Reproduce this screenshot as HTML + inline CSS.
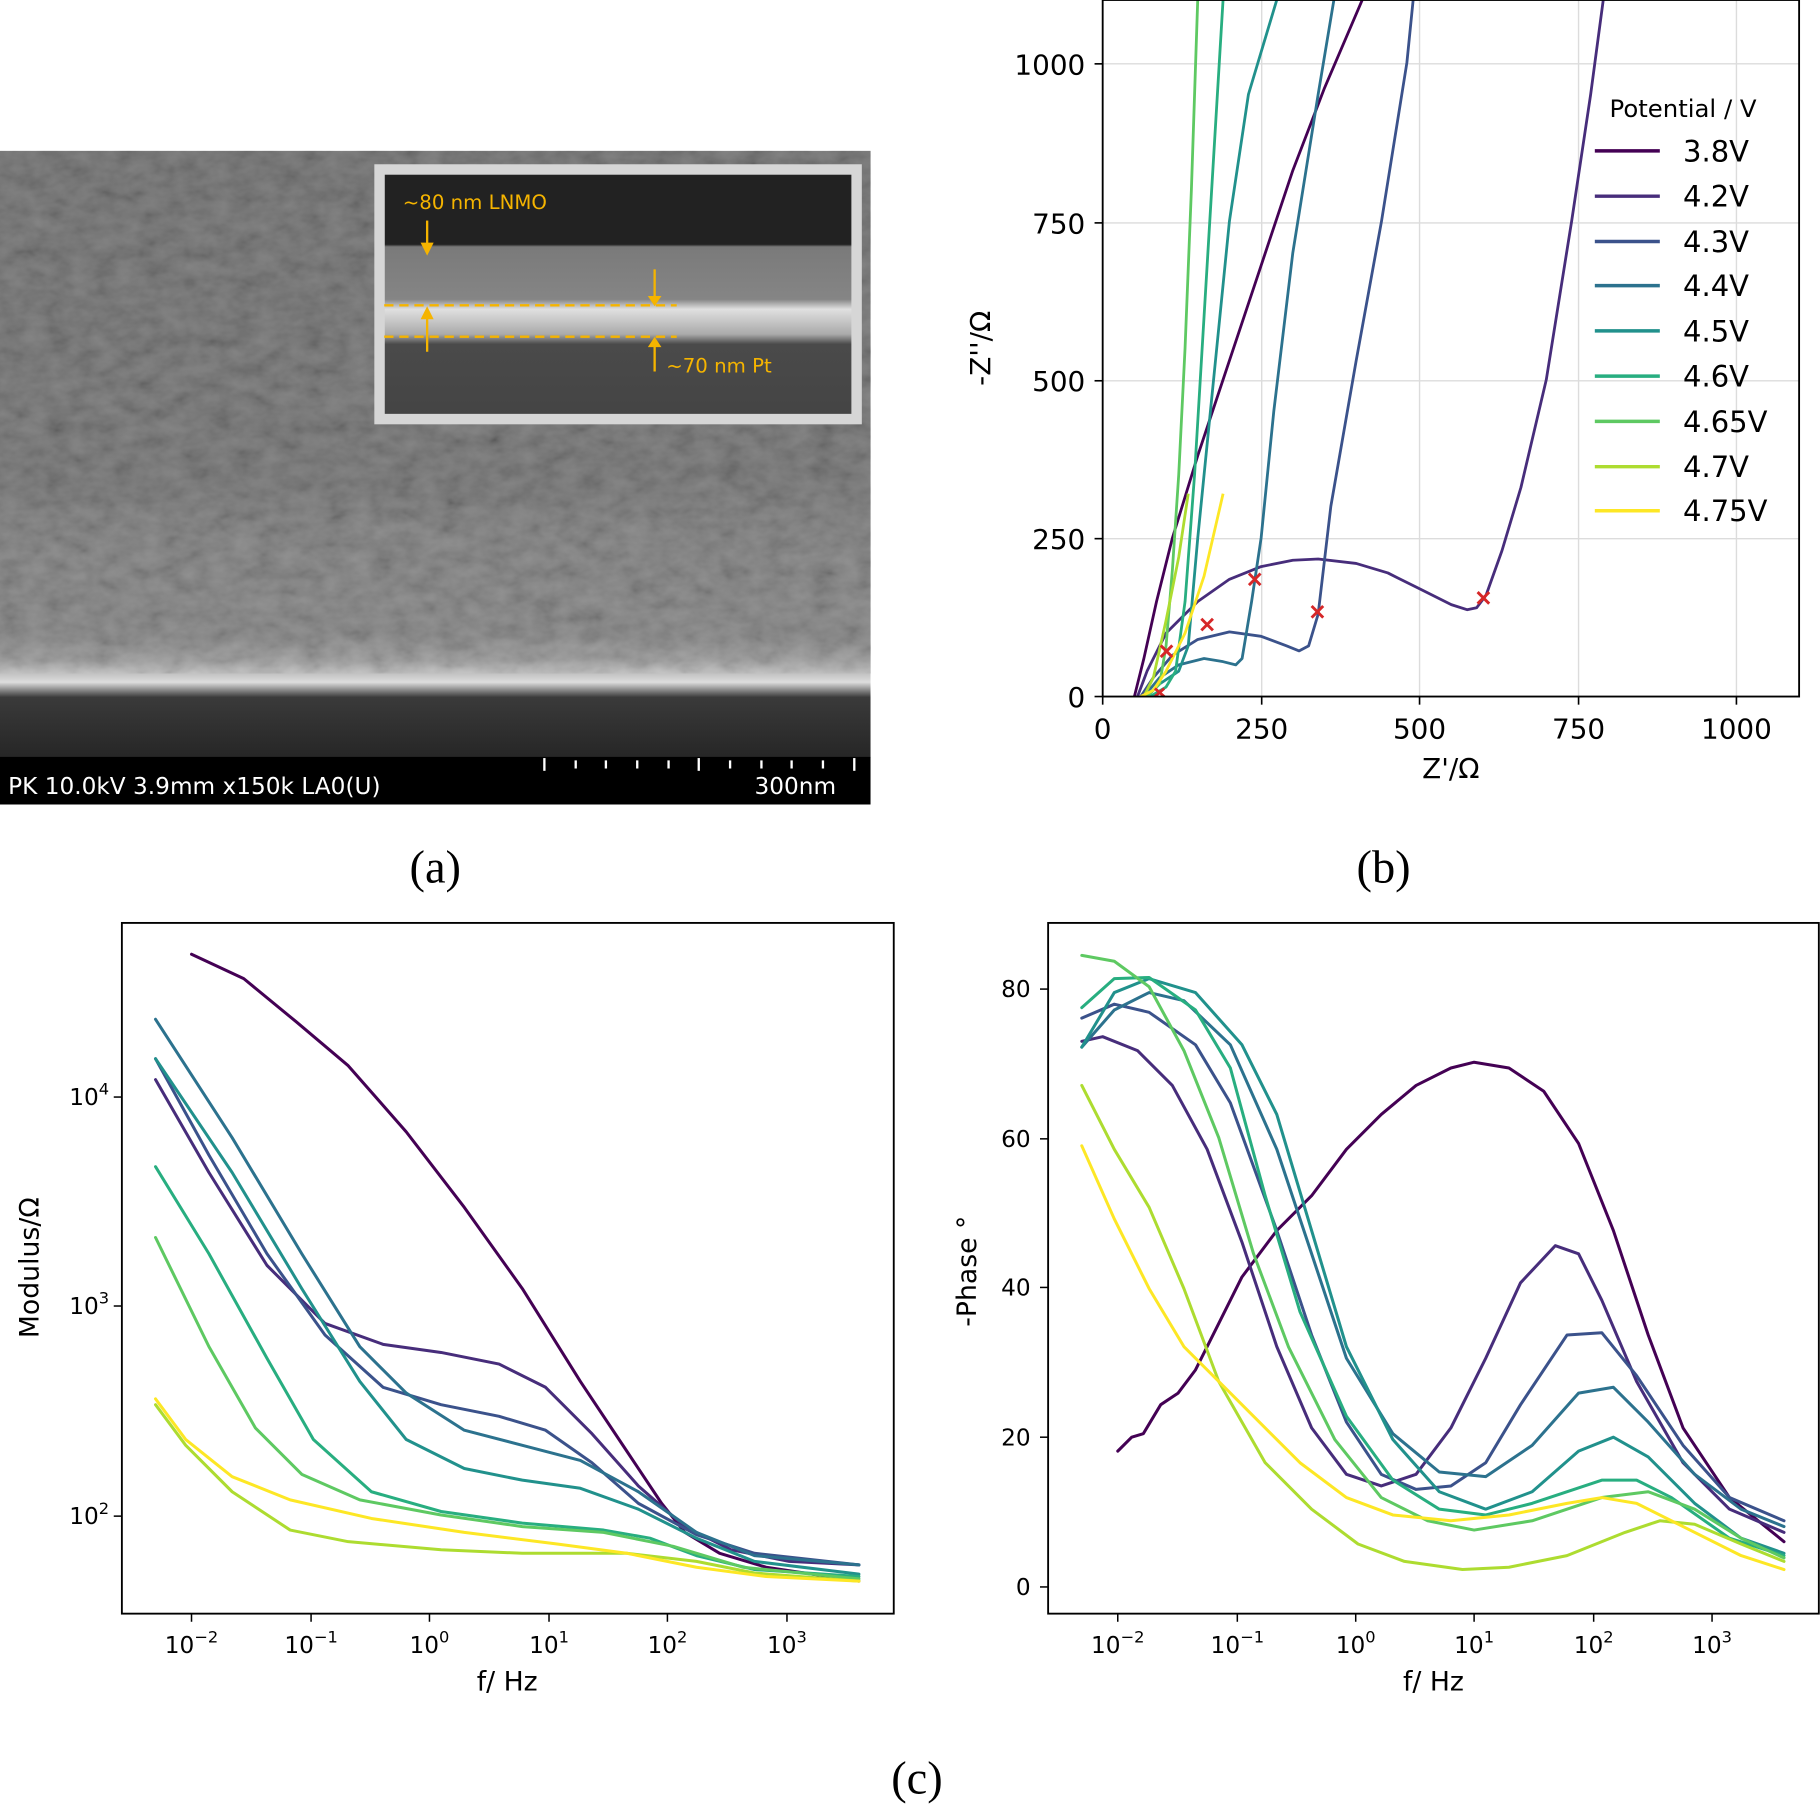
<!DOCTYPE html>
<html><head><meta charset="utf-8"><style>
html,body{margin:0;padding:0;background:#fff;}
svg{display:block;}
text{font-family:"DejaVu Sans","Liberation Sans",sans-serif;}
.serif{font-family:"Liberation Serif","DejaVu Serif",serif;}
.c polyline{fill:none;stroke-width:2.6;stroke-linejoin:round;stroke-linecap:round;}
.n polyline{fill:none;stroke-width:2.8;vector-effect:non-scaling-stroke;stroke-linejoin:round;}
</style></head><body>
<svg width="1820" height="1811" viewBox="0 0 1568 1560" preserveAspectRatio="none" xmlns="http://www.w3.org/2000/svg">
<defs>
<filter id="tex" x="0" y="0" width="100%" height="100%">
<feTurbulence type="fractalNoise" baseFrequency="0.05 0.08" numOctaves="3" seed="4"/>
<feColorMatrix type="matrix" values="0.9 0 0 0 -0.05  0.9 0 0 0 -0.05  0.9 0 0 0 -0.05  0 0 0 0 1"/>
</filter>
<linearGradient id="sem" x1="0" y1="0" x2="0" y2="1">
<stop offset="0" stop-color="#6a6a6a"/><stop offset="0.55" stop-color="#6e6e6e"/>
<stop offset="0.63" stop-color="#7a7a7a"/><stop offset="0.8" stop-color="#808080"/>
<stop offset="0.84" stop-color="#9a9a9a"/><stop offset="0.875" stop-color="#dddddd"/>
<stop offset="0.9" stop-color="#3a3a3a"/><stop offset="1" stop-color="#262626"/>
</linearGradient>
<linearGradient id="ins" x1="0" y1="0" x2="0" y2="1">
<stop offset="0" stop-color="#222"/><stop offset="0.3" stop-color="#222"/>
<stop offset="0.31" stop-color="#7a7a7a"/><stop offset="0.52" stop-color="#858585"/>
<stop offset="0.56" stop-color="#e0e0e0"/><stop offset="0.66" stop-color="#aaa"/>
<stop offset="0.7" stop-color="#4a4a4a"/><stop offset="1" stop-color="#444"/>
</linearGradient>
</defs>

<!-- (a) SEM -->
<rect x="0" y="130" width="750" height="523" fill="url(#sem)"/>
<rect x="0" y="130" width="750" height="450" fill="#777" opacity="0.2" filter="url(#tex)"/>
<rect x="0" y="652" width="750" height="41" fill="#000"/>
<text x="7" y="684" font-size="20" fill="#fff" font-family="Liberation Sans,sans-serif">PK 10.0kV 3.9mm x150k LA0(U)</text>
<text x="650" y="684" font-size="20" fill="#fff" font-family="Liberation Sans,sans-serif">300nm</text>
<g stroke="#fff" stroke-width="2">
<line x1="469" y1="653" x2="469" y2="664"/><line x1="496" y1="655" x2="496" y2="662"/><line x1="522" y1="655" x2="522" y2="662"/><line x1="549" y1="655" x2="549" y2="662"/><line x1="576" y1="655" x2="576" y2="662"/><line x1="602" y1="653" x2="602" y2="664"/><line x1="629" y1="655" x2="629" y2="662"/><line x1="656" y1="655" x2="656" y2="662"/><line x1="682" y1="655" x2="682" y2="662"/><line x1="709" y1="655" x2="709" y2="662"/><line x1="736" y1="653" x2="736" y2="664"/>
</g>
<rect x="327" y="146" width="411" height="215" fill="url(#ins)" stroke="#d6d6d6" stroke-width="9"/>
<g stroke="#f5b400" stroke-width="2" fill="#f5b400">
<line x1="331" y1="263" x2="583" y2="263" stroke-dasharray="8,5"/>
<line x1="331" y1="290" x2="583" y2="290" stroke-dasharray="8,5"/>
<line x1="368" y1="190" x2="368" y2="212"/><polygon points="364,210 372,210 368,218"/>
<line x1="368" y1="272" x2="368" y2="303"/><polygon points="364,274 372,274 368,266"/>
<line x1="564" y1="232" x2="564" y2="258"/><polygon points="560,256 568,256 564,262"/>
<line x1="564" y1="296" x2="564" y2="320"/><polygon points="560,298 568,298 564,292"/>
</g>
<text x="347" y="180" font-size="17" fill="#f5b400" font-family="Liberation Sans,sans-serif">~80 nm LNMO</text>
<text x="574" y="321" font-size="17" fill="#f5b400" font-family="Liberation Sans,sans-serif">~70 nm Pt</text>
<text x="375" y="760" font-size="40" text-anchor="middle" class="serif">(a)</text>
<text x="1192" y="760" font-size="40" text-anchor="middle" class="serif">(b)</text>
<text x="790" y="1545" font-size="40" text-anchor="middle" class="serif">(c)</text>

<!-- (b) Nyquist -->
<g stroke="#dcdcdc" stroke-width="1.2">
<line x1="1087" y1="0" x2="1087" y2="600"/><line x1="1223" y1="0" x2="1223" y2="600"/><line x1="1360" y1="0" x2="1360" y2="600"/><line x1="1496" y1="0" x2="1496" y2="600"/>
<line x1="950" y1="464" x2="1550" y2="464"/><line x1="950" y1="328" x2="1550" y2="328"/><line x1="950" y1="192" x2="1550" y2="192"/><line x1="950" y1="55" x2="1550" y2="55"/>
</g>
<svg x="950" y="0" width="600" height="600" viewBox="0 0 600 600" overflow="hidden">
<g class="n" transform="translate(0,600) scale(0.546,-0.546)">
<polyline stroke="#440154" points="50,0 65,60 85,150 110,250 150,380 200,530 250,680 300,830 350,960 410,1100"/>
<polyline stroke="#472d7b" points="55,0 70,40 100,100 150,150 200,185 250,205 300,215 340,217 400,210 450,195 500,170 550,145 575,137 590,140 605,160 630,230 660,330 700,500 740,750 770,950 790,1100"/>
<polyline stroke="#3b528b" points="60,0 80,30 110,65 150,90 200,102 250,95 290,80 310,72 325,80 340,130 360,300 400,530 440,750 480,1000 490,1100"/>
<polyline stroke="#2c728e" points="65,0 90,30 120,50 160,60 190,55 210,50 220,60 235,150 250,250 270,450 300,700 340,950 365,1100"/>
<polyline stroke="#21918c" points="70,0 90,20 105,30 120,40 135,80 150,250 175,500 200,750 230,950 275,1100"/>
<polyline stroke="#28ae80" points="75,0 100,15 115,40 130,150 145,350 160,600 175,850 190,1100"/>
<polyline stroke="#5ec962" points="70,0 90,20 100,80 110,200 120,350 130,550 140,800 150,1100"/>
<polyline stroke="#addc30" points="65,0 80,30 100,120 120,220 135,320"/>
<polyline stroke="#fde725" points="60,0 80,10 100,40 130,100 160,190 190,320"/>
</g>
</svg>
<g stroke="#d62728" stroke-width="2.5">
<path d="M1000 556l10 10M1010 556l-10 10"/>
<path d="M1035 533l10 10M1045 533l-10 10"/>
<path d="M1076 494l10 10M1086 494l-10 10"/>
<path d="M1130 522l10 10M1140 522l-10 10"/>
<path d="M1273 510l10 10M1283 510l-10 10"/>
<path d="M995 593l8 7M1003 593l-8 7"/>
</g>
<rect x="950" y="0" width="600" height="600" fill="none" stroke="#000" stroke-width="1.6"/>
<g stroke="#000" stroke-width="1.4">
<line x1="943" y1="600" x2="950" y2="600"/><line x1="943" y1="464" x2="950" y2="464"/><line x1="943" y1="328" x2="950" y2="328"/><line x1="943" y1="192" x2="950" y2="192"/><line x1="943" y1="55" x2="950" y2="55"/>
<line x1="950" y1="600" x2="950" y2="607"/><line x1="1087" y1="600" x2="1087" y2="607"/><line x1="1223" y1="600" x2="1223" y2="607"/><line x1="1360" y1="600" x2="1360" y2="607"/><line x1="1496" y1="600" x2="1496" y2="607"/>
</g>
<g font-size="24" text-anchor="end">
<text x="935" y="609">0</text><text x="935" y="473">250</text><text x="935" y="337">500</text><text x="935" y="201">750</text><text x="935" y="64">1000</text>
</g>
<g font-size="24" text-anchor="middle">
<text x="950" y="636">0</text><text x="1087" y="636">250</text><text x="1223" y="636">500</text><text x="1360" y="636">750</text><text x="1496" y="636">1000</text>
<text x="1250" y="670">Z'/Ω</text>
<text transform="translate(853,300) rotate(-90)">-Z''/Ω</text>
</g>
<text x="1450" y="101" font-size="21" text-anchor="middle">Potential / V</text>
<g stroke-width="3">
<line x1="1374" y1="130" x2="1430" y2="130" stroke="#440154"/>
<line x1="1374" y1="169" x2="1430" y2="169" stroke="#472d7b"/>
<line x1="1374" y1="208" x2="1430" y2="208" stroke="#3b528b"/>
<line x1="1374" y1="246" x2="1430" y2="246" stroke="#2c728e"/>
<line x1="1374" y1="285" x2="1430" y2="285" stroke="#21918c"/>
<line x1="1374" y1="324" x2="1430" y2="324" stroke="#28ae80"/>
<line x1="1374" y1="363" x2="1430" y2="363" stroke="#5ec962"/>
<line x1="1374" y1="402" x2="1430" y2="402" stroke="#addc30"/>
<line x1="1374" y1="440" x2="1430" y2="440" stroke="#fde725"/>
</g>
<g font-size="25">
<text x="1450" y="139">3.8V</text><text x="1450" y="178">4.2V</text><text x="1450" y="217">4.3V</text><text x="1450" y="255">4.4V</text><text x="1450" y="294">4.5V</text><text x="1450" y="333">4.6V</text><text x="1450" y="372">4.65V</text><text x="1450" y="411">4.7V</text><text x="1450" y="449">4.75V</text>
</g>

<!-- (c) left: Modulus -->
<g class="c">
<polyline stroke="#440154" points="165,822 210,843 255,880 300,918 350,975 400,1040 450,1110 500,1190 540,1250 570,1295 590,1320 620,1338 660,1350 740,1362"/>
<polyline stroke="#472d7b" points="134,930 180,1010 230,1090 280,1140 330,1158 380,1165 430,1175 470,1195 510,1235 550,1280 590,1315 630,1335 680,1345 740,1348"/>
<polyline stroke="#3b528b" points="134,912 180,995 230,1080 280,1150 330,1195 380,1210 430,1220 470,1232 510,1260 550,1295 600,1322 650,1338 740,1348"/>
<polyline stroke="#2c728e" points="134,878 200,980 260,1080 310,1160 350,1200 400,1232 450,1245 500,1258 550,1285 600,1320 650,1340 740,1348"/>
<polyline stroke="#21918c" points="134,912 200,1010 260,1110 310,1190 350,1240 400,1265 450,1275 500,1282 550,1300 600,1325 650,1345 740,1356"/>
<polyline stroke="#28ae80" points="134,1005 180,1080 230,1170 270,1240 320,1285 380,1302 450,1312 520,1318 560,1325 600,1340 650,1352 740,1358"/>
<polyline stroke="#5ec962" points="134,1066 180,1160 220,1230 260,1270 310,1292 380,1305 450,1315 520,1320 580,1332 640,1350 740,1360"/>
<polyline stroke="#addc30" points="134,1210 160,1245 200,1285 250,1318 300,1328 380,1335 450,1338 540,1338 600,1345 650,1355 740,1362"/>
<polyline stroke="#fde725" points="134,1205 160,1240 200,1272 250,1292 320,1308 400,1320 480,1330 540,1338 600,1350 660,1358 740,1362"/>
</g>
<rect x="105" y="795" width="665" height="595" fill="none" stroke="#000" stroke-width="1.6"/>
<g stroke="#000" stroke-width="1.3">
<line x1="165" y1="1390" x2="165" y2="1397"/><line x1="268" y1="1390" x2="268" y2="1397"/><line x1="370" y1="1390" x2="370" y2="1397"/><line x1="473" y1="1390" x2="473" y2="1397"/><line x1="575" y1="1390" x2="575" y2="1397"/><line x1="678" y1="1390" x2="678" y2="1397"/>
<line x1="98" y1="945" x2="105" y2="945"/><line x1="98" y1="1125" x2="105" y2="1125"/><line x1="98" y1="1306" x2="105" y2="1306"/>
</g>
<g font-size="20" text-anchor="middle">
<text x="165" y="1424">10<tspan font-size="14" dy="-9">−2</tspan></text>
<text x="268" y="1424">10<tspan font-size="14" dy="-9">−1</tspan></text>
<text x="370" y="1424">10<tspan font-size="14" dy="-9">0</tspan></text>
<text x="473" y="1424">10<tspan font-size="14" dy="-9">1</tspan></text>
<text x="575" y="1424">10<tspan font-size="14" dy="-9">2</tspan></text>
<text x="678" y="1424">10<tspan font-size="14" dy="-9">3</tspan></text>
<text x="437" y="1456" font-size="23">f/ Hz</text>
<text transform="translate(33,1092) rotate(-90)" font-size="23">Modulus/Ω</text>
</g>
<g font-size="20" text-anchor="end">
<text x="94" y="952">10<tspan font-size="14" dy="-9">4</tspan></text>
<text x="94" y="1132">10<tspan font-size="14" dy="-9">3</tspan></text>
<text x="94" y="1313">10<tspan font-size="14" dy="-9">2</tspan></text>
</g>

<!-- (c) right: Phase -->
<g class="c">
<polyline stroke="#440154" points="963,1250 975,1238 985,1235 1000,1210 1015,1200 1030,1180 1050,1140 1070,1100 1100,1060 1130,1030 1160,990 1190,960 1220,935 1250,920 1270,915 1300,920 1330,940 1360,985 1390,1060 1420,1150 1450,1230 1490,1290 1537,1328"/>
<polyline stroke="#472d7b" points="932,897 950,893 980,905 1010,935 1040,990 1070,1070 1100,1160 1130,1230 1160,1270 1190,1280 1220,1270 1250,1230 1280,1170 1310,1105 1340,1073 1360,1080 1380,1120 1410,1190 1450,1260 1490,1300 1537,1320"/>
<polyline stroke="#3b528b" points="932,877 960,865 990,872 1030,900 1060,950 1100,1060 1130,1150 1160,1225 1190,1270 1220,1283 1250,1280 1280,1260 1310,1210 1350,1150 1380,1148 1410,1185 1450,1245 1490,1290 1537,1310"/>
<polyline stroke="#2c728e" points="932,902 960,870 990,855 1020,862 1060,900 1100,990 1130,1080 1160,1170 1200,1235 1240,1268 1280,1272 1320,1245 1360,1200 1390,1195 1420,1225 1460,1270 1500,1300 1537,1315"/>
<polyline stroke="#21918c" points="932,902 960,855 990,843 1030,855 1070,900 1100,960 1130,1060 1160,1160 1200,1240 1240,1285 1280,1300 1320,1285 1360,1250 1390,1238 1420,1255 1460,1295 1500,1325 1537,1338"/>
<polyline stroke="#28ae80" points="932,868 960,843 990,842 1030,870 1060,920 1090,1030 1120,1130 1160,1220 1200,1275 1240,1300 1280,1305 1320,1295 1380,1275 1410,1275 1440,1290 1490,1325 1537,1340"/>
<polyline stroke="#5ec962" points="932,823 960,828 990,850 1020,905 1050,980 1080,1080 1110,1160 1150,1240 1190,1290 1230,1310 1270,1318 1320,1310 1380,1290 1420,1285 1460,1300 1500,1325 1537,1342"/>
<polyline stroke="#addc30" points="932,935 960,990 990,1040 1020,1110 1050,1190 1090,1260 1130,1300 1170,1330 1210,1345 1260,1352 1300,1350 1350,1340 1400,1320 1430,1310 1460,1313 1500,1330 1537,1345"/>
<polyline stroke="#fde725" points="932,987 960,1050 990,1110 1020,1160 1050,1190 1080,1220 1120,1260 1160,1290 1200,1305 1250,1310 1300,1305 1350,1295 1380,1290 1410,1295 1450,1315 1500,1340 1537,1352"/>
</g>
<rect x="903" y="795" width="664" height="595" fill="none" stroke="#000" stroke-width="1.6"/>
<g stroke="#000" stroke-width="1.3">
<line x1="963" y1="1390" x2="963" y2="1397"/><line x1="1066" y1="1390" x2="1066" y2="1397"/><line x1="1168" y1="1390" x2="1168" y2="1397"/><line x1="1270" y1="1390" x2="1270" y2="1397"/><line x1="1373" y1="1390" x2="1373" y2="1397"/><line x1="1475" y1="1390" x2="1475" y2="1397"/>
<line x1="896" y1="1367" x2="903" y2="1367"/><line x1="896" y1="1238" x2="903" y2="1238"/><line x1="896" y1="1109" x2="903" y2="1109"/><line x1="896" y1="981" x2="903" y2="981"/><line x1="896" y1="852" x2="903" y2="852"/>
</g>
<g font-size="20" text-anchor="middle">
<text x="963" y="1424">10<tspan font-size="14" dy="-9">−2</tspan></text>
<text x="1066" y="1424">10<tspan font-size="14" dy="-9">−1</tspan></text>
<text x="1168" y="1424">10<tspan font-size="14" dy="-9">0</tspan></text>
<text x="1270" y="1424">10<tspan font-size="14" dy="-9">1</tspan></text>
<text x="1373" y="1424">10<tspan font-size="14" dy="-9">2</tspan></text>
<text x="1475" y="1424">10<tspan font-size="14" dy="-9">3</tspan></text>
<text x="1235" y="1456" font-size="23">f/ Hz</text>
<text transform="translate(841,1095) rotate(-90)" font-size="23">-Phase °</text>
</g>
<g font-size="20" text-anchor="end">
<text x="888" y="1374">0</text><text x="888" y="1245">20</text><text x="888" y="1116">40</text><text x="888" y="988">60</text><text x="888" y="859">80</text>
</g>
</svg>
</body></html>
